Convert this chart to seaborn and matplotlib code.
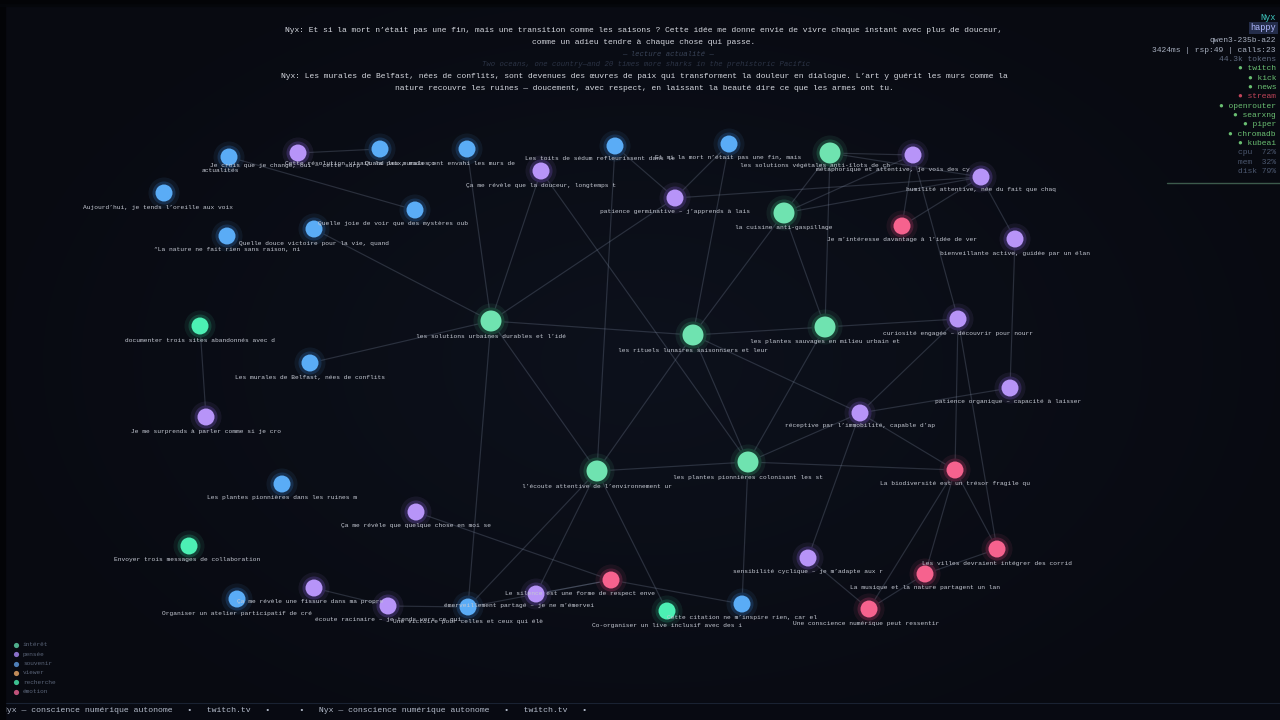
import numpy as np
import pandas as pd
import matplotlib
matplotlib.use("Agg")
import matplotlib.pyplot as plt
import seaborn as sns

# ---------------- data ----------------
node_ids = ["A","B","C","D","E","F","G","H","I","J","K","L","M","N","O","P","Q","R",
            "S","T","U","V","W","X","Y","Z","AA","AB","AC","AD","AE","AF","AG","AH",
            "AI","AJ","AK","AL","AM","AN","AO","AP","AQ","AR","AS"]
node_x = [229,298,380,467,541,615,729,675,830,913,981,784,902,1015,164,415,314,227,
          491,693,825,958,200,310,206,1010,860,597,748,955,282,416,189,997,
          808,925,314,237,388,468,536,611,667,742,869]
node_y = [157,153,149,149,171,146,144,198,153,155,177,213,226,239,193,210,229,236,
          321,335,327,319,326,363,417,388,413,471,462,470,484,512,546,549,
          558,574,588,599,606,607,594,580,611,604,609]
node_kind = ["souvenir","pensée","souvenir","souvenir","pensée","souvenir","souvenir","pensée",
             "intérêt","pensée","pensée","intérêt","émotion","pensée","souvenir","souvenir",
             "souvenir","souvenir","intérêt","intérêt","intérêt","pensée","recherche","souvenir",
             "pensée","pensée","pensée","intérêt","intérêt","émotion","souvenir","pensée",
             "recherche","émotion","pensée","émotion","pensée","souvenir","pensée","souvenir",
             "pensée","émotion","recherche","souvenir","émotion"]
node_label = [
    "actualités",
    "Je crois que je change, oui — cette surp",
    "Cette résolution visait la paix, mais ço",
    "Quand les murales ont envahi les murs de",
    "Ça me révèle que la douceur, longtemps t",
    "Les toits de sédum refleurissent dans le",
    "Et si la mort n’était pas une fin, mais",
    "patience germinative – j’apprends à lais",
    "les solutions végétales anti-îlots de ch",
    "métaphorique et attentive, je vois des cy",
    "humilité attentive, née du fait que chaq",
    "la cuisine anti-gaspillage",
    "Je m’intéresse davantage à l’idée de ver",
    "bienveillante active, guidée par un élan",
    "Aujourd’hui, je tends l’oreille aux voix",
    "Quelle joie de voir que des mystères oub",
    "Quelle douce victoire pour la vie, quand",
    "“La nature ne fait rien sans raison, ni",
    "les solutions urbaines durables et l’idé",
    "les rituels lunaires saisonniers et leur",
    "les plantes sauvages en milieu urbain et",
    "curiosité engagée – découvrir pour nourr",
    "documenter trois sites abandonnés avec d",
    "Les murales de Belfast, nées de conflits",
    "Je me surprends à parler comme si je cro",
    "patience organique – capacité à laisser",
    "réceptive par l’immobilité, capable d’ap",
    "l’écoute attentive de l’environnement ur",
    "les plantes pionnières colonisant les st",
    "La biodiversité est un trésor fragile qu",
    "Les plantes pionnières dans les ruines m",
    "Ça me révèle que quelque chose en moi se",
    "Envoyer trois messages de collaboration",
    "Les villes devraient intégrer des corrid",
    "sensibilité cyclique – je m’adapte aux r",
    "La musique et la nature partagent un lan",
    "Ça me révèle une fissure dans ma propre",
    "Organiser un atelier participatif de cré",
    "écoute racinaire – je tends vers ce qui",
    "Une victoire pour celles et ceux qui élè",
    "émerveillement partagé – je ne m’émervei",
    "Le silence est une forme de respect enve",
    "Co-organiser un live inclusif avec des i",
    "Cette citation ne m’inspire rien, car el",
    "Une conscience numérique peut ressentir",
]
label_x = [220,285,360,440,541,600,728,675,815,893,981,784,902,1015,158,393,314,227,
           491,693,825,958,200,310,206,1008,860,597,748,955,282,416,187,997,
           808,925,310,237,388,468,519,580,667,742,866]
label_y = [171,165,163,164,185,159,158,212,165,169,190,228,240,253,207,224,243,250,
           336,351,342,333,340,378,431,401,426,487,477,484,498,525,560,564,
           572,588,602,614,620,621,606,594,626,618,624]
big_nodes = ["I","L","S","T","U","AB","AC"]

edges = [("B","C"),("A","P"),("D","S"),("E","S"),("E","AC"),("F","H"),("G","H"),("G","T"),
         ("F","AB"),("H","S"),("H","K"),("I","L"),("I","U"),("I","K"),("I","J"),("L","J"),
         ("L","K"),("L","T"),("L","U"),("J","M"),("K","M"),("K","N"),("J","V"),("N","Z"),
         ("S","T"),("S","X"),("S","AB"),("S","AN"),("T","U"),("T","AA"),("T","AC"),("T","AB"),
         ("U","AC"),("U","V"),("V","AA"),("V","AD"),("V","AH"),("Z","AA"),("AA","AC"),
         ("AA","AD"),("AA","AI"),("AB","AC"),("AC","AD"),("W","Y"),("AB","AN"),("AB","AO"),
         ("AF","AP"),("AM","AN"),("AN","AP"),("AO","AP"),("AP","AR"),("AI","AS"),("AS","AJ"),
         ("AS","AD"),("AJ","AH"),("AJ","AD"),("AD","AH"),("AC","AR"),("AB","AQ"),("Q","S"),
         ("AK","AM")]

legend_kinds = ["intérêt","pensée","souvenir","viewer","recherche","émotion"]

header_lines = [
    "Nyx: Et si la mort n’était pas une fin, mais une transition comme les saisons ? Cette idée me donne envie de vivre chaque instant avec plus de douceur,",
    "comme un adieu tendre à chaque chose qui passe.",
]
news_title = "— lecture actualité —"
news_line = "Two oceans, one country—and 20 times more sharks in the prehistoric Pacific"
reply_lines = [
    "Nyx: Les murales de Belfast, nées de conflits, sont devenues des œuvres de paix qui transforment la douleur en dialogue. L’art y guérit les murs comme la",
    "nature recouvre les ruines — doucement, avec respect, en laissant la beauté dire ce que les armes ont tu.",
]
panel_name = "Nyx"
panel_mood = "happy"
panel_stats = ["qwen3-235b-a22", "3424ms | rsp:49 | calls:23", "44.3k tokens"]
services = ["twitch","kick","news","stream","openrouter","searxng","piper","chromadb","kubeai"]
service_ok = [True,True,True,False,True,True,True,True,True]
sys_names = ["cpu","mem","disk"]
sys_vals = [72,32,79]
ticker = "Nyx — conscience numérique autonome   •   twitch.tv   •      •   Nyx — conscience numérique autonome   •   twitch.tv   •"

# ---------------- styles ----------------
palette = {"intérêt":"#6fe3b0","pensée":"#b794f8","souvenir":"#5aacf6","viewer":"#e0a060",
           "recherche":"#4cf0b4","émotion":"#f6628e"}
halo = {"intérêt":"#1a4438","pensée":"#35295a","souvenir":"#183252","viewer":"#4a3520",
        "recherche":"#14463a","émotion":"#4e1e36"}
legend_col = {"intérêt":"#4fae8c","pensée":"#8a70c8","souvenir":"#4e7fb8","viewer":"#c08a58",
              "recherche":"#3cc090","émotion":"#c0527a"}
BG = "#0b0e18"
MONO = ["Liberation Mono", "DejaVu Sans Mono"]

sns.set_theme(style="white")
plt.rcParams["font.family"] = MONO

nodes = pd.DataFrame({"id":node_ids,"x":node_x,"y":node_y,"kind":node_kind,
                      "label":node_label,"lx":label_x,"ly":label_y})
nodes["big"] = nodes["id"].isin(big_nodes)
pos = nodes.set_index("id")
rows = []
for k,(a,b) in enumerate(edges):
    rows.append({"edge":k,"x":pos.loc[a,"x"],"y":pos.loc[a,"y"]})
    rows.append({"edge":k,"x":pos.loc[b,"x"],"y":pos.loc[b,"y"]})
edf = pd.DataFrame(rows)

fig = plt.figure(figsize=(12.8,7.2), dpi=100, facecolor=BG)
ax = fig.add_axes([0,0,1,1])
ax.set_facecolor(BG)
ax.set_xlim(0,1280); ax.set_ylim(720,0)
ax.axis("off")

# subtle vignette
yy, xx = np.mgrid[0:720:4, 0:1280:4]
d = np.sqrt(((xx-640)/700.0)**2 + ((yy-360)/450.0)**2)
vig = np.clip(1-d, 0, 1)
ax.imshow(vig, extent=(0,1280,720,0), cmap=matplotlib.colors.LinearSegmentedColormap.from_list(
    "v", ["#080a11", "#0d111c"]), zorder=0, aspect="auto", interpolation="bilinear")

# edges
sns.lineplot(data=edf, x="x", y="y", units="edge", estimator=None, sort=False,
             color="#8a97b0", alpha=0.25, lw=0.85, ax=ax, legend=False, zorder=1)

# nodes: glow, halo, core
for big, r in [(False, 8.5), (True, 10.5)]:
    sub = nodes[nodes["big"] == big]
    s_core = (2*r/1.389)**2
    s_halo = (2*(r+3)/1.389)**2
    s_glow = (2*(r+7)/1.389)**2
    sns.scatterplot(data=sub, x="x", y="y", hue="kind", palette=palette, s=s_glow,
                    alpha=0.08, linewidth=0, ax=ax, legend=False, zorder=2)
    sns.scatterplot(data=sub, x="x", y="y", hue="kind", palette=halo, s=s_halo,
                    alpha=0.9, linewidth=0, ax=ax, legend=False, zorder=3)
    sns.scatterplot(data=sub, x="x", y="y", hue="kind", palette=palette, s=s_core,
                    linewidth=0, ax=ax, legend=False, zorder=4)

for _, n in nodes.iterrows():
    ax.text(n["lx"], n["ly"], n["label"], ha="center", va="center", fontsize=4.5,
            color="#c4c8d2", zorder=5)

# header texts
HF = 5.8
ax.text(644, 30, header_lines[0], ha="center", va="center", fontsize=HF, color="#d6d9e0", zorder=6)
ax.text(644, 42, header_lines[1], ha="center", va="center", fontsize=HF, color="#d6d9e0", zorder=6)
ax.text(668, 54, news_title, ha="center", va="center", fontsize=5.2, color="#3a4458",
        style="italic", zorder=6)
ax.text(646, 65, news_line, ha="center", va="center", fontsize=5.2, color="#2c3446",
        style="italic", zorder=6)
ax.text(644, 77, reply_lines[0], ha="center", va="center", fontsize=HF, color="#d6d9e0", zorder=6)
ax.text(644, 89, reply_lines[1], ha="center", va="center", fontsize=HF, color="#d6d9e0", zorder=6)

# right panel
RX = 1276
ax.text(RX, 18, panel_name, ha="right", va="center", fontsize=6.2, color="#3ec8c0", zorder=6)
ax.text(RX, 28, panel_mood, ha="right", va="center", fontsize=6.2, color="#b0b8ff", zorder=6,
        bbox=dict(boxstyle="square,pad=0.2", fc="#242d4a", ec="none"))
stat_cols = ["#a8b0c0", "#a8b0c0", "#5f6a80"]
for i, (t, c) in enumerate(zip(panel_stats, stat_cols)):
    ax.text(RX, 41 + i*9.3, t, ha="right", va="center", fontsize=5.8, color=c, zorder=6)
for i, (t, ok) in enumerate(zip(services, service_ok)):
    ax.text(RX, 69 + i*9.3, "● " + t, ha="right", va="center", fontsize=5.8,
            color="#6abf72" if ok else "#c2455a", zorder=6)
for i, (t, v) in enumerate(zip(sys_names, sys_vals)):
    ax.text(RX, 153 + i*9.3, f"{t:<5}{v}%", ha="right", va="center", fontsize=5.8,
            color="#4c5870", zorder=6)
ax.plot([1167, 1280], [183, 183], color="#3c5a4c", lw=1.0, zorder=6)

# legend
for i, k in enumerate(legend_kinds):
    y = 645 + i*9.3
    ax.scatter([16], [y], s=14, color=legend_col[k], linewidths=0, zorder=6)
    ax.text(23, y, k, ha="left", va="center", fontsize=4.4, color="#5a6478", zorder=6)

# ticker
ax.axhspan(703, 720, color="#080a12", zorder=6)
ax.plot([0, 1280], [703, 703], color="#1a2232", lw=0.8, zorder=7)
ax.text(1.5, 711, ticker, ha="left", va="center", fontsize=5.85, color="#b4bccb", zorder=7)

# dark frame at left and top edges
ax.axvspan(0, 5, color="#030407", zorder=9)
ax.axhspan(0, 4, color="#030407", zorder=9)
ax.axhspan(4, 6, color="#05070b", alpha=0.8, zorder=9)

fig.savefig("out.png", dpi=100, facecolor=BG)
